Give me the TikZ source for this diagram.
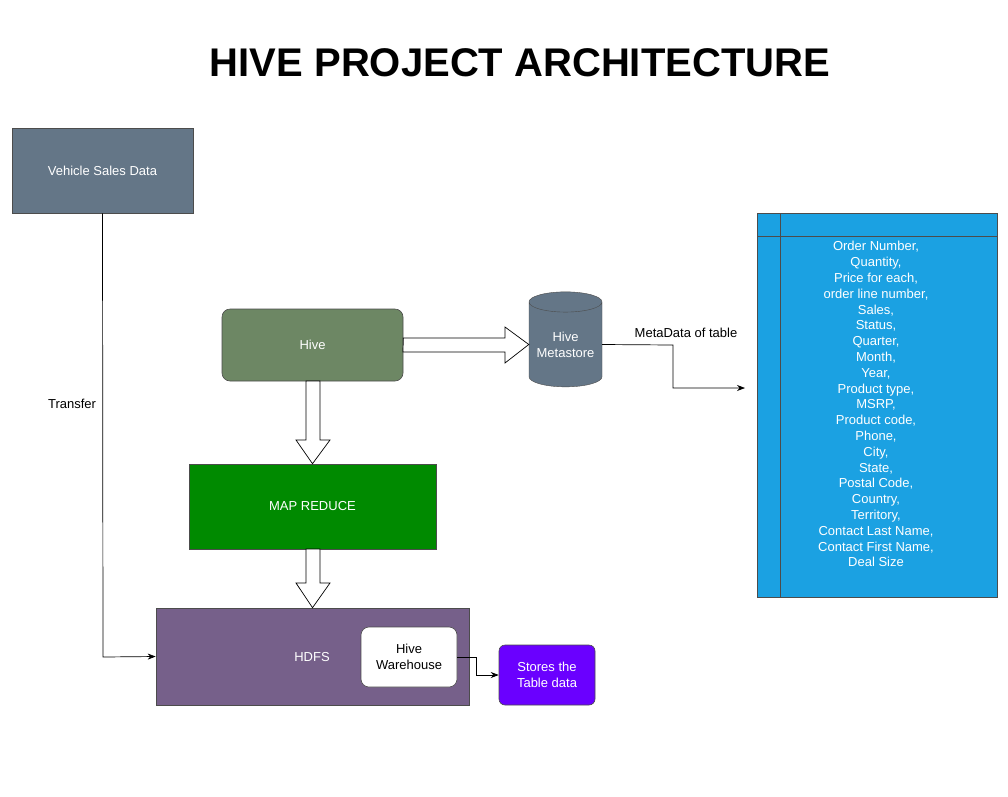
\documentclass[tikz,border=0pt]{standalone}
\usepackage{fontspec}
\setmainfont{Liberation Sans}
\usetikzlibrary{shapes.geometric,arrows.meta}
\definecolor{slate}{HTML}{647687}
\definecolor{hivegreen}{HTML}{6D8764}
\definecolor{mrgreen}{HTML}{008A00}
\definecolor{hdfspurple}{HTML}{76608A}
\definecolor{tblue}{HTML}{1BA1E2}
\definecolor{violet}{HTML}{6A00FF}
\begin{document}
\begin{tikzpicture}[x=1pt,y=-1pt,
  every node/.style={font=\fontsize{13}{15.8}\selectfont},
  box/.style={draw=black!70,line width=0.6pt,text=white,align=center,inner sep=0},
  conn/.style={-{Stealth[length=8pt,width=6pt]},line width=0.7pt},
  blockarr/.style={draw=black,fill=white,line width=0.7pt}]
\useasboundingbox (0,0) rectangle (1008,796);
\fill[white] (0,0) rectangle (1008,796);
\node[font=\fontsize{40}{44}\bfseries\selectfont] (title) at (520,63) {HIVE PROJECT ARCHITECTURE};
\node[box,fill=slate,minimum width=181,minimum height=85] (vsd) at (102.5,170.5) {Vehicle Sales Data};
\node[box,fill=hivegreen,rounded corners=8,minimum width=181,minimum height=72] (hive) at (312.5,345) {Hive};
\node[box,fill=mrgreen,minimum width=247,minimum height=85] (mr) at (312.5,506.5) {MAP REDUCE};
\node[box,fill=hdfspurple,minimum width=313,minimum height=97] (hdfs) at (312.5,656.5) {};
\node[text=white] (hdfsl) at (312,657) {HDFS};
\node[box,fill=white,text=black,rounded corners=8,minimum width=96,minimum height=60] (wh) at (409,657) {Hive\\Warehouse};
\node[box,fill=violet,rounded corners=6,minimum width=96,minimum height=60] (st) at (547,675) {Stores the\\Table data};
\node[draw=black!70,fill=slate,cylinder,shape border rotate=90,aspect=0.35,minimum width=73,minimum height=95,inner sep=0,text=white,align=center] (meta) at (565.5,344.5) {Hive\\Metastore};
\node[draw=black!70,fill=tblue,minimum width=240,minimum height=384,inner sep=0] (tbl) at (877,405) {};
\draw[black!70] (757,236) -- (997,236) (780,213) -- (780,597);
\node[text=white,align=center,anchor=north] (fields) at (876,238) {Order Number,\\Quantity,\\Price for each,\\order line number,\\Sales,\\Status,\\Quarter,\\Month,\\Year,\\Product type,\\MSRP,\\Product code,\\Phone,\\City,\\State,\\Postal Code,\\Country,\\Territory,\\Contact Last Name,\\Contact First Name,\\Deal Size};
\coordinate (tin) at (745,388);
% connectors
\draw[conn] (vsd.south) -- (103,657) -- (hdfs.west);
\node (tr) at (72,404) {Transfer};
\draw[conn] (meta.east) -- (673,345) -- (673,388) -- (tin);
\node (mdl) at (686,333) {MetaData of table};
\draw[conn] (wh.east) -- (476,657) -- (476,675) -- (st.west);
% block arrows
\draw[blockarr] (hive.east) ++(0,-7) -- (505,338) -- (505,327) -- (meta.west) -- (505,363) -- (505,352) -- (403,352) -- cycle;
\draw[blockarr] (306,381) -- (306,440) -- (296,440) -- (mr.north) -- (330,440) -- (320,440) -- (320,381) -- cycle;
\draw[blockarr] (306,549) -- (306,583) -- (296,583) -- (hdfs.north) -- (330,583) -- (320,583) -- (320,549) -- cycle;
\end{tikzpicture}
\end{document}
